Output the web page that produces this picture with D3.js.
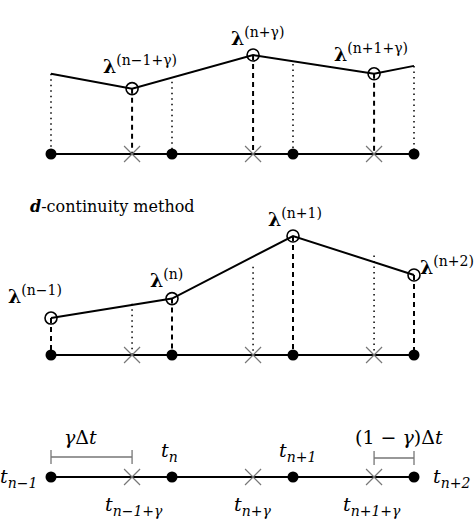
<!DOCTYPE html><html><head><meta charset="utf-8">
<script src="https://cdn.jsdelivr.net/npm/d3@7"></script>
<style>body{margin:0;background:#fff}text{font-family:"DejaVu Serif","Liberation Serif",serif;}</style></head><body>
<svg id="c" width="474" height="520"></svg>
<script>
const nodes=[0,1,2,3];
const mids=[0.67,1.67,2.67];
// panel 1: line values (node ends and mid circles)
const topLine=[[0,0.81],[0.67,0.66],[1.67,1.0],[2.67,0.81],[3,0.89]];
const topNodeVals=[0.81,0.73,0.91,0.89];
const topLabels=["(n−1+γ)","(n+γ)","(n+1+γ)"];
// panel 2
const midNodeVals=[0.36,0.55,1.16,0.78];
const midMidVals=[0.50,0.86,0.97];
const midLabels=["(n−1)","(n)","(n+1)","(n+2)"];
const x=d3.scaleLinear().domain([0,3]).range([51,414]);
const yTop=d3.scaleLinear().domain([0,1]).range([154,55]);
const yMid=d3.scaleLinear().domain([0,1.16]).range([355,236]);
const svg=d3.select("#c");
function axis(y,g){
  g.append("line").attr("x1",x(0)).attr("x2",x(3)).attr("y1",y).attr("y2",y).attr("stroke","#000").attr("stroke-width",2);
  mids.forEach(m=>{const cx=x(m);g.append("path").attr("d",`M${cx-8},${y-8}L${cx+8},${y+8}M${cx-8},${y+8}L${cx+8},${y-8}`).attr("stroke","#777").attr("stroke-width",1.2);});
  nodes.forEach(n=>g.append("circle").attr("cx",x(n)).attr("cy",y).attr("r",5.5).attr("fill","#000"));
}
function lam(g,tx,ty,sup){const t=g.append("text").attr("x",tx).attr("y",ty).attr("font-size",19);
  t.append("tspan").attr("font-weight","bold").text("λ");
  t.append("tspan").attr("dy",-8).attr("font-size",14).text(sup);}
// panel 1
const g1=svg.append("g");
nodes.forEach((n,i)=>g1.append("line").attr("x1",x(n)).attr("x2",x(n)).attr("y1",yTop(topNodeVals[i])).attr("y2",154).attr("stroke","#000").attr("stroke-width",1.5).attr("stroke-dasharray","1.5,4"));
topLine.filter((d,i)=>i>0&&i<4).forEach(d=>g1.append("line").attr("x1",x(d[0])).attr("x2",x(d[0])).attr("y1",yTop(d[1])).attr("y2",154).attr("stroke","#000").attr("stroke-width",2).attr("stroke-dasharray","5,4"));
g1.append("path").attr("d",d3.line().x(d=>x(d[0])).y(d=>yTop(d[1]))(topLine)).attr("fill","none").attr("stroke","#000").attr("stroke-width",2);
axis(154,g1);
topLine.filter((d,i)=>i>0&&i<4).forEach(d=>g1.append("circle").attr("cx",x(d[0])).attr("cy",yTop(d[1])).attr("r",6).attr("fill","none").attr("stroke","#000").attr("stroke-width",1.6));
lam(g1,103,73,topLabels[0]);lam(g1,231,45,topLabels[1]);lam(g1,334,61,topLabels[2]);
// panel 2
const g2=svg.append("g");
g2.append("text").attr("x",30).attr("y",212).attr("font-size",16).html('<tspan font-weight="bold" font-style="italic">d</tspan>-continuity method');
mids.forEach((m,i)=>g2.append("line").attr("x1",x(m)).attr("x2",x(m)).attr("y1",yMid(midMidVals[i])).attr("y2",355).attr("stroke","#000").attr("stroke-width",1.5).attr("stroke-dasharray","1.5,4"));
nodes.forEach((n,i)=>g2.append("line").attr("x1",x(n)).attr("x2",x(n)).attr("y1",yMid(midNodeVals[i])).attr("y2",355).attr("stroke","#000").attr("stroke-width",2).attr("stroke-dasharray","5,4"));
g2.append("path").attr("d",d3.line().x((d,i)=>x(i)).y(d=>yMid(d))(midNodeVals)).attr("fill","none").attr("stroke","#000").attr("stroke-width",2);
axis(355,g2);
nodes.forEach((n,i)=>g2.append("circle").attr("cx",x(n)).attr("cy",yMid(midNodeVals[i])).attr("r",6).attr("fill","none").attr("stroke","#000").attr("stroke-width",1.6));
lam(g2,8,303,midLabels[0]);lam(g2,150,287,midLabels[1]);lam(g2,268,226,midLabels[2]);lam(g2,420,274,midLabels[3]);
// panel 3
const g3=svg.append("g");axis(477,g3);
function sub(tx,ty,s){const t=g3.append("text").attr("x",tx).attr("y",ty).attr("font-size",19);
  t.append("tspan").attr("font-style","italic").text("t");t.append("tspan").attr("dy",5).attr("font-size",14).attr("font-style","italic").text(s);}
sub(0,483,"n−1");sub(161,457,"n");sub(279,457,"n+1");sub(433,483,"n+2");
sub(105,511,"n−1+γ");sub(234,511,"n+γ");sub(343,511,"n+1+γ");
function brk(a,b,y){g3.append("path").attr("d",`M${x(a)},${y-7}V${y+7}M${x(a)},${y}H${x(b)}M${x(b)},${y-7}V${y+7}`).attr("stroke","#777").attr("stroke-width",1.3).attr("fill","none");}
brk(0,0.67,457);brk(2.67,3,458);
g3.append("text").attr("x",64).attr("y",444).attr("font-size",19).html('<tspan font-style="italic">γ</tspan>Δ<tspan font-style="italic">t</tspan>');
g3.append("text").attr("x",355).attr("y",444).attr("font-size",19).html('(1 − <tspan font-style="italic">γ</tspan>)Δ<tspan font-style="italic">t</tspan>');
</script></body></html>
